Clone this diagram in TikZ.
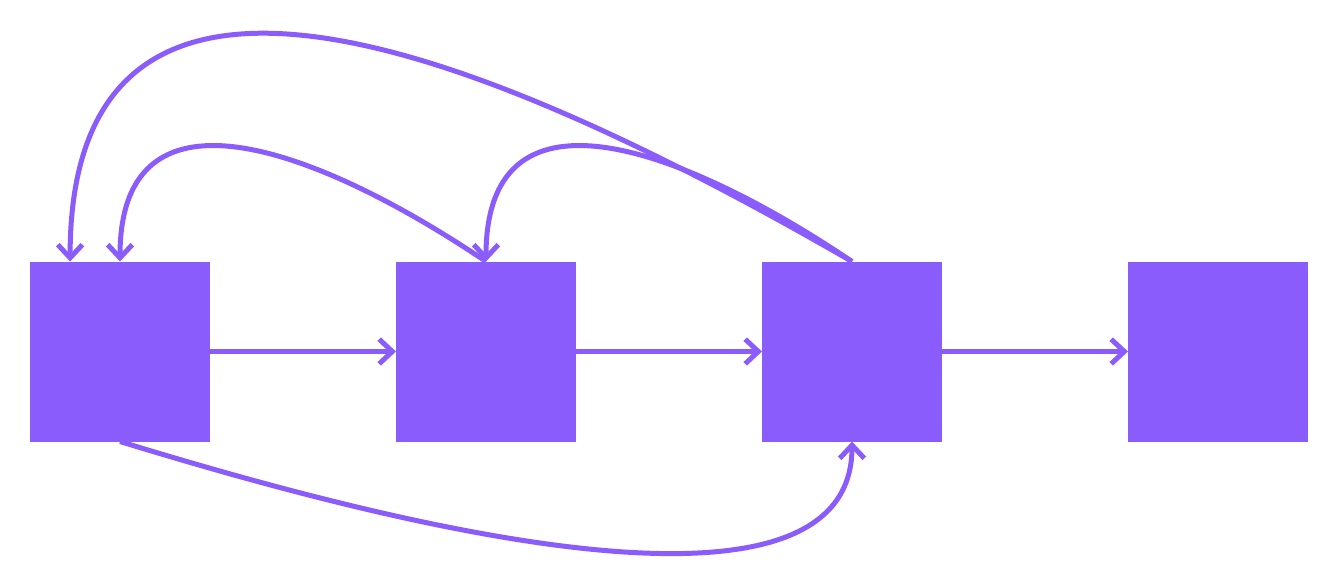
\documentclass[tikz,border=0pt]{standalone}
\usepackage{tikz}
\usetikzlibrary{arrows.meta, positioning}

\definecolor{boxviolet}{RGB}{139,92,252}

\begin{document}
\begin{tikzpicture}[>={Straight Barb[length=7.5pt,width=14pt]},auto,node distance=3.72cm,
  block/.style={fill=boxviolet, draw=none, minimum size=3.6cm, inner sep=0pt, outer sep=0pt},
  link/.style={color=boxviolet, line width=0.1cm}]

\useasboundingbox (0,0) rectangle (26.8,-11.72);

% define the blocks
  \node[block]   (b1) at (2.4,-7.03) {};
  \node[block]   (b2)   [right=of b1] {};
  \node[block]   (b3)   [right=of b2] {};
  \node[block]   (b4)   [right=of b3] {};

% define the links
  \path[->, link] (b1) edge    (b2)
        (b2) edge    (b3)
        (b3) edge    (b4)
        (b2.north) edge [out=146, in=90, looseness=1.35] (b1.north)
        (b3.north) edge [out=146, in=90, looseness=1.35] (b2.north)
        (b3.north) edge [out=150, in=90, looseness=1.29] (b1.119)
        (b1.south) edge [out=-17, in=-90, looseness=0.75] (b3.south);

\end{tikzpicture}
\end{document}
